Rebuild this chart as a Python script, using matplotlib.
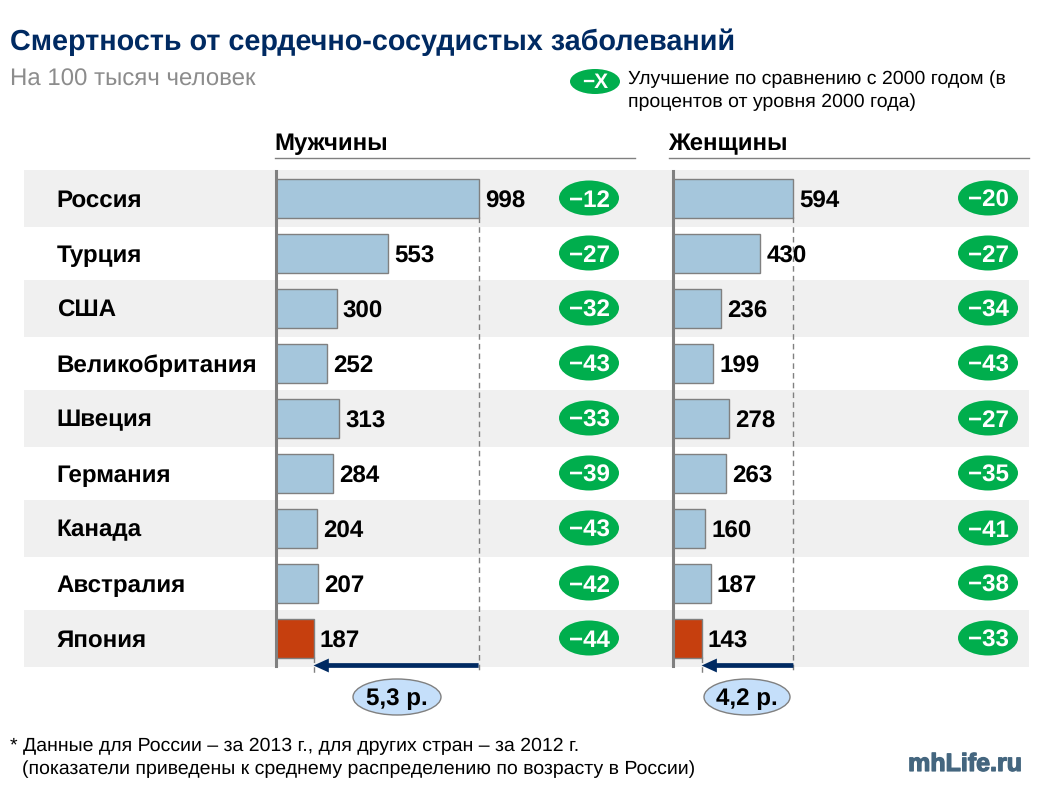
import matplotlib
matplotlib.use("Agg")
import matplotlib.pyplot as plt
import matplotlib.patheffects as pe
from matplotlib.patches import Ellipse, Rectangle

plt.rcParams["font.family"] = ["Liberation Sans", "DejaVu Sans"]
plt.rcParams["text.hinting"] = "no_hinting"
plt.rcParams["text.hinting_factor"] = 8

countries = ["Россия", "Турция", "США", "Великобритания", "Швеция", "Германия", "Канада", "Австралия", "Япония"]
men_values = [998, 553, 300, 252, 313, 284, 204, 207, 187]
women_values = [594, 430, 236, 199, 278, 263, 160, 187, 143]
men_change = [12, 27, 32, 43, 33, 39, 43, 42, 44]
women_change = [20, 27, 34, 43, 27, 35, 41, 38, 33]
men_ratio = "5,3 р."
women_ratio = "4,2 р."

W, H = 1055, 789
PX_PER_UNIT = 0.2035
ROW_TOP = 170.5
ROW_H = 55

BLUE = "#a5c6dc"
RED = "#c63f0e"
GREEN = "#00ae4d"
NAVY = "#002a62"
GRAY = "#808080"

fig = plt.figure(figsize=(W / 100, H / 100), dpi=100)

# background axes in pixel coordinates
bg = fig.add_axes([0, 0, 1, 1])
bg.set_xlim(0, W)
bg.set_ylim(H, 0)
bg.axis("off")


def row_y(i):
    return ROW_TOP + ROW_H * (i + 0.5)


for i in range(0, len(countries), 2):
    bg.add_patch(Rectangle((24, row_y(i) - 28.5), 1005, 57, color="#f0f0f0", lw=0))

bg.text(10, 42.5, "Смертность от сердечно-сосудистых заболеваний", fontsize=20.7, fontweight="bold",
        color=NAVY, va="center")
bg.text(10, 80, "На 100 тысяч человек", fontsize=17.3, color="#8c8c8c", va="center")

bg.add_patch(Ellipse((595, 81.5), 50, 25, color=GREEN, lw=0))
bg.text(595, 82.5, "−X", fontsize=15, fontweight="bold", color="white", ha="center", va="center")
bg.text(628, 79.5, "Улучшение по сравнению с 2000 годом (в", fontsize=14, va="center", color="black")
bg.text(628, 102, "процентов от уровня 2000 года)", fontsize=14, va="center", color="black")

for i, name in enumerate(countries):
    bg.text(56.7, row_y(i) + 2.5, name, fontsize=17.4, fontweight="bold", va="center", color="black")


def draw_panel(left, right, title, values, change, ratio, pill_x, ratio_x, ratio_w):
    bg.text(left - 1, 144, title, fontsize=17.3, fontweight="bold", va="center", color="black")
    bg.plot([left, right], [158, 158], color=GRAY, lw=1)

    x0 = left + 0.5 if title == "Мужчины" else left + 3.5
    w = right - x0
    ax = fig.add_axes([x0 / W, 1 - (ROW_TOP + ROW_H * len(values)) / H, w / W, ROW_H * len(values) / H])
    ax.set_xlim(0, w / PX_PER_UNIT)
    ax.set_ylim(len(values) - 0.5, -0.5)
    ax.axis("off")
    ax.patch.set_alpha(0)

    rows = list(range(len(values)))
    colors = [BLUE] * (len(values) - 1) + [RED]
    ax.barh(rows, values, height=39 / ROW_H, color=colors, edgecolor=GRAY, linewidth=1)
    ax.axvline(0, color=GRAY, lw=2.2, ymin=0, ymax=1, clip_on=False)

    for i, v in enumerate(values):
        ax.annotate(str(v), (v, i), xytext=(4.5, -2.6), textcoords="offset points", fontsize=17.4,
                    fontweight="bold", va="center", color="black")

    # dashed guides and the arrow between largest and smallest value
    vmax, vmin = max(values), min(values)
    bottom = len(values) - 0.5
    ax.plot([vmax, vmax], [0.35, bottom + 0.11], color=GRAY, lw=1, ls=(0, (4, 3)), clip_on=False)
    ax.plot([vmin, vmin], [bottom - 0.16, bottom + 0.14], color=GRAY, lw=1, ls=(0, (4, 3)), clip_on=False)
    ax.annotate("", xy=(vmin, bottom), xytext=(vmax, bottom), annotation_clip=False,
                arrowprops=dict(width=3.4, headwidth=10, headlength=11, shrink=0, color=NAVY, lw=0))

    for i, c in enumerate(change):
        bg.add_patch(Ellipse((pill_x, row_y(i)), 60, 35, color=GREEN, lw=0))
        bg.text(pill_x, row_y(i) + 3, f"−{c}", fontsize=17.4, fontweight="bold", color="white",
                ha="center", va="center")

    bg.add_patch(Ellipse((ratio_x, 697), ratio_w, 36, facecolor="#c5dffa", edgecolor=GRAY, lw=1))
    bg.text(ratio_x, 699, ratio, fontsize=17.4, fontweight="bold", ha="center", va="center", color="black")


draw_panel(275, 635, "Мужчины", men_values, men_change, men_ratio, 589, 397, 88)
draw_panel(669, 1029, "Женщины", women_values, women_change, women_ratio, 988, 747, 86)

bg.text(10, 746.5, "* Данные для России – за 2013 г., для других стран – за 2012 г.", fontsize=14.03, va="center",
        color="black")
bg.text(22, 769.5, "(показатели приведены к среднему распределению по возрасту в России)", fontsize=14.03,
        va="center", color="black")
bg.text(1022, 764.5, "mhLife.ru", fontsize=18, fontweight="bold", color="#44667f", ha="right", va="center",
        path_effects=[pe.withStroke(linewidth=0.9, foreground="#44667f")])

fig.savefig("out.png", dpi=100)
